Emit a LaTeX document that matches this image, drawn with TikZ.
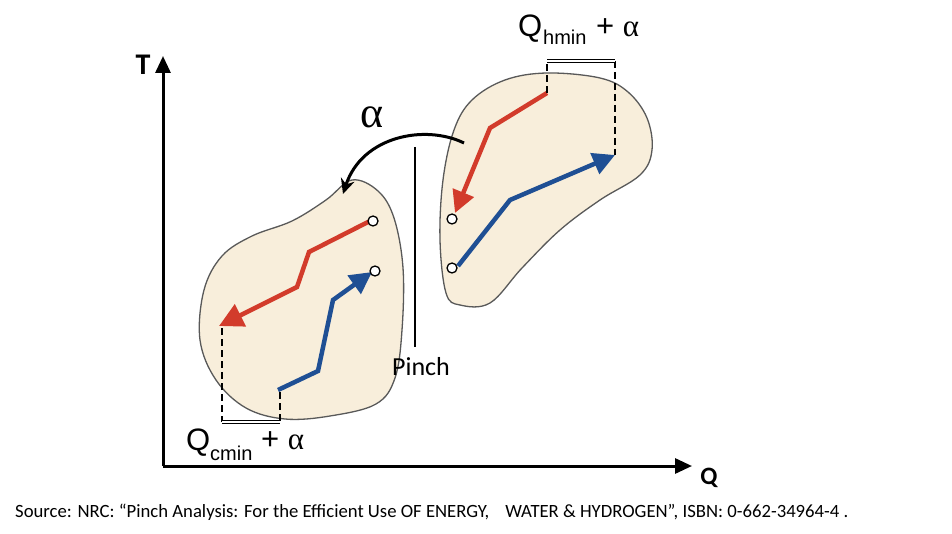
\documentclass[tikz,border=0pt]{standalone}
\usepackage{fontspec}
\setmainfont{Liberation Sans}
\newfontfamily\carl{Carlito}
\newfontfamily\ser{Liberation Serif}
\usetikzlibrary{arrows.meta}
\definecolor{blobfill}{HTML}{F8EEDB}
\definecolor{redc}{HTML}{D23B2B}
\definecolor{bluec}{HTML}{1F4F94}
\tikzset{
  blob/.style={fill=blobfill,draw=black!65,line width=1.3pt},
  redline/.style={draw=redc,line width=4.5pt,line join=miter,-{Triangle[length=24pt,width=24pt]}},
  blueline/.style={draw=bluec,line width=4.5pt,line join=miter,-{Triangle[length=22pt,width=22pt]}},
  endc/.style={circle,draw=black,fill=white,line width=1.3pt,minimum size=10pt,inner sep=0pt},
  dsh/.style={draw=black,line width=2.6pt,dash pattern=on 7pt off 4pt},
  dbl/.style={draw=black,double=white,double distance=2pt,line width=1.2pt},
  lbl/.style={font=\fontsize{31}{31}\selectfont,inner sep=0pt},
  sub/.style={font=\fontsize{20}{20}\selectfont,inner sep=0pt},
  axis/.style={line width=3pt,-{Triangle[length=17pt,width=15pt]}},
  axlbl/.style={font=\carl\bfseries\fontsize{25}{25}\selectfont,inner sep=0pt},
}
\begin{document}
\begin{tikzpicture}[x=1pt,y=-1pt]
\useasboundingbox[fill=white] (0,0) rectangle (952,534);
% axes
\coordinate (O) at (163,466);
\coordinate (Ty) at (163,56);
\coordinate (Qx) at (692,466);
\draw[axis] (O) -- (Ty);
\draw[axis] (O) -- (Qx);
\node[axlbl,anchor=base,font=\carl\bfseries\fontsize{30}{30}\selectfont] (T) at (143,75) {T};
\node[axlbl,anchor=base] (Q) at (709,484) {Q};
% right blob
\path[blob] plot[smooth cycle,tension=0.6] coordinates {(547,73) (600,78) (628,92) (647,118) (652,150) (640,175) (600,200) (560,230) (522,268) (490,303) (460,305) (446,293) (440,240) (443,180) (454,130) (472,100) (505,80)};
% left blob
\path[blob] plot[smooth cycle,tension=0.6] coordinates {(352,180) (378,191) (394,218) (403,268) (402,330) (395,378) (376,404) (330,416) (285,419) (246,408) (216,380) (200,340) (204,290) (222,256) (252,236) (292,221) (326,200)};
% pinch
\coordinate (P1) at (415,147);
\coordinate (P2) at (415,347);
\draw[line width=2pt] (P1) -- (P2);
\node[font=\carl\fontsize{26}{26}\selectfont,anchor=base,inner sep=0pt] (pinch) at (421,375) {Pinch};
% alpha arrow
\coordinate (a1) at (464,143);
\coordinate (a2) at (343,194);
\draw[line width=3pt,-{Stealth[length=15pt,width=14pt]}] (a1) .. controls (425,124) and (362,136) .. (a2);
\node[font=\ser\fontsize{44}{44}\selectfont,inner sep=0pt,anchor=base] (alpha) at (372,128) {α};
% left blob streams
\coordinate (lr0) at (372,220);
\coordinate (lr1) at (309,252);
\coordinate (lr2) at (297,287);
\coordinate (lr3) at (219,326);
\draw[redline] (lr0) -- (lr1) -- (lr2) -- (lr3);
\coordinate (lb0) at (278,390);
\coordinate (lb1) at (318,371);
\coordinate (lb2) at (333,300);
\coordinate (lb3) at (372,272);
\draw[blueline] (lb0) -- (lb1) -- (lb2) -- (lb3);
\node[endc] (lc1) at (373,221) {};
\node[endc] (lc2) at (375,271) {};
\coordinate (ld1) at (222,328);
\coordinate (ld2) at (222,422);
\coordinate (ld3) at (280,392);
\coordinate (ld4) at (280,422);
\draw[dsh] (ld1) -- (ld2);
\draw[dsh] (ld3) -- (ld4);
\draw[dbl] (ld2) -- (ld4);
\node[lbl,anchor=base west] (qc) at (186,450) {Q};
\node[sub,anchor=base west] (qcs) at (210,460) {cmin};
\node[lbl,anchor=base west] (qca) at (261,449) {+ {\ser α}};
% right blob streams
\coordinate (rr0) at (547,93);
\coordinate (rr1) at (490,128);
\coordinate (rr2) at (455,213);
\draw[redline,-{Triangle[length=22pt,width=22pt]}] (rr0) -- (rr1) -- (rr2);
\coordinate (rb0) at (458,266);
\coordinate (rb1) at (510,200);
\coordinate (rb2) at (615,155);
\draw[blueline] (rb0) -- (rb1) -- (rb2);
\node[endc] (rc1) at (452,219) {};
\node[endc] (rc2) at (452,268) {};
\coordinate (rd1) at (547,61);
\coordinate (rd2) at (615,61);
\draw[dsh] (rr0) -- (rd1);
\draw[dsh] (rd2) -- (rb2);
\draw[dbl] (rd1) -- (rd2);
\node[lbl,anchor=base west] (qh) at (518,37) {Q};
\node[sub,anchor=base west] (qhs) at (543,45) {hmin};
\node[lbl,anchor=base west] (qha) at (596,37) {+ {\ser α}};
% source
\node[font=\carl\fontsize{18.7}{18.7}\selectfont,anchor=base west,inner sep=0pt] (src) at (15,517) {Source: NRC: “Pinch Analysis: For the Efficient Use OF ENERGY,\hspace{16pt}WATER \& HYDROGEN”, ISBN: 0-662-34964-4 .};
\end{tikzpicture}
\end{document}
